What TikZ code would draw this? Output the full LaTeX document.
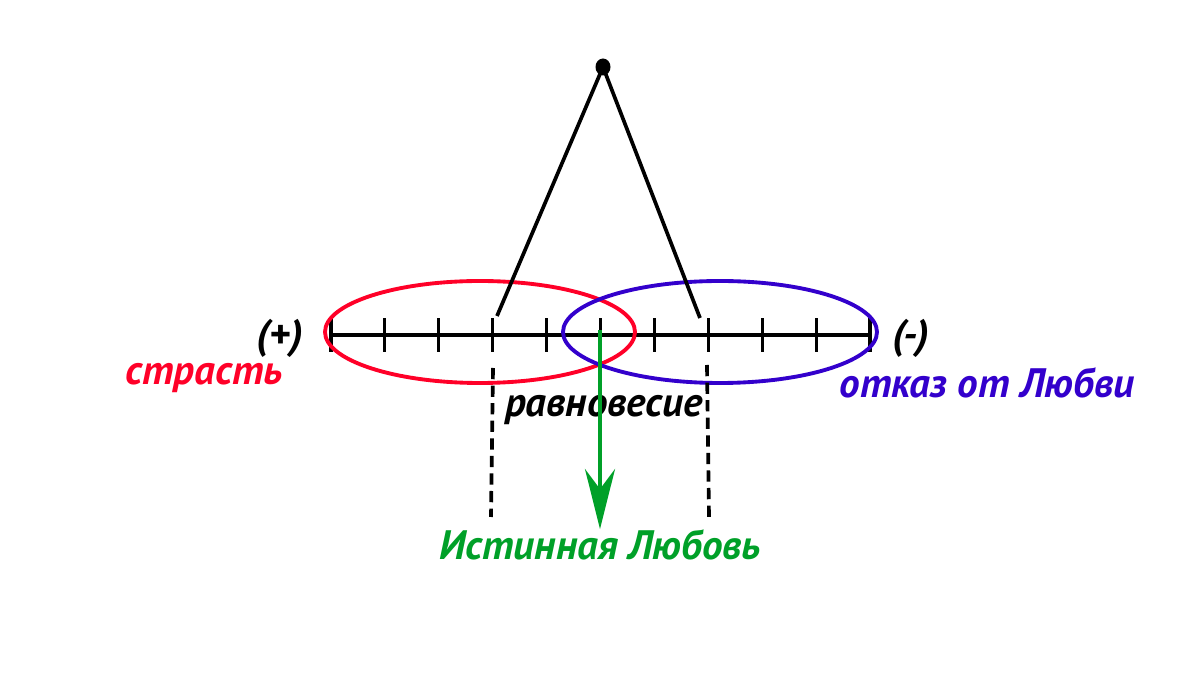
\documentclass[tikz,border=0pt]{standalone}
\usepackage{fontspec}
\setmainfont{PT Sans}
\usetikzlibrary{arrows.meta}
\definecolor{passred}{RGB}{255,0,40}
\definecolor{refblue}{RGB}{51,0,204}
\definecolor{truegreen}{RGB}{0,160,40}
\tikzset{
	lbl/.style={font=\fontsize{11.7}{14}\selectfont\bfseries\itshape, inner sep=0pt},
	leg/.style={line width=1.05pt},
}
\begin{document}
\begin{tikzpicture}
	\useasboundingbox (0,0) rectangle (12,6.75);
	% scale
	\draw[line width=0.9pt] (3.31,3.40) coordinate (axl) -- (8.70,3.40) coordinate (axr);
	\foreach \i in {0,...,10}
		\draw[line width=0.9pt] ({3.31+0.539*\i},3.23) -- ({3.31+0.539*\i},3.57);
	% ellipses
	\draw[passred, line width=1.1pt] (4.80,3.43) ellipse (1.55 and 0.51);
	\draw[refblue, line width=1.1pt] (7.20,3.43) ellipse (1.57 and 0.51);
	% pendulum
	\coordinate (apex) at (6.03,6.08);
	\coordinate (legL) at (4.97,3.59);
	\coordinate (legR) at (7.00,3.57);
	\draw[leg] (legL) -- (apex) -- (legR);
	\fill (apex) ellipse (0.075 and 0.085);
	% bounds
	\coordinate (dLa) at (4.93,3.07);
	\coordinate (dLb) at (4.91,1.58);
	\coordinate (dRa) at (7.07,3.10);
	\coordinate (dRb) at (7.09,1.58);
	\draw[leg, dash pattern=on 3.2pt off 1.8pt] (dLa) -- (dLb);
	\draw[leg, dash pattern=on 3.2pt off 1.8pt] (dRa) -- (dRb);
	% labels
	\node[lbl] (plus) at (2.80,3.37) {(+)};
	\node[lbl] (minus) at (9.11,3.37) {(-)};
	\node[lbl, passred] (passion) at (2.04,2.97) {страсть};
	\node[lbl, refblue] (refusal) at (9.87,2.92) {отказ от Любви};
	\node[lbl] (balance) at (6.04,2.65) {равновесие};
	\node[lbl, truegreen] (love) at (6.00,1.30) {Истинная Любовь};
	% arrow
	\coordinate (mid) at (6.00,3.45);
	\draw[truegreen, line width=1.4pt, -{Stealth[length=6mm,width=3mm,inset=2mm]}] (mid) -- (love.north);
\end{tikzpicture}
\end{document}
